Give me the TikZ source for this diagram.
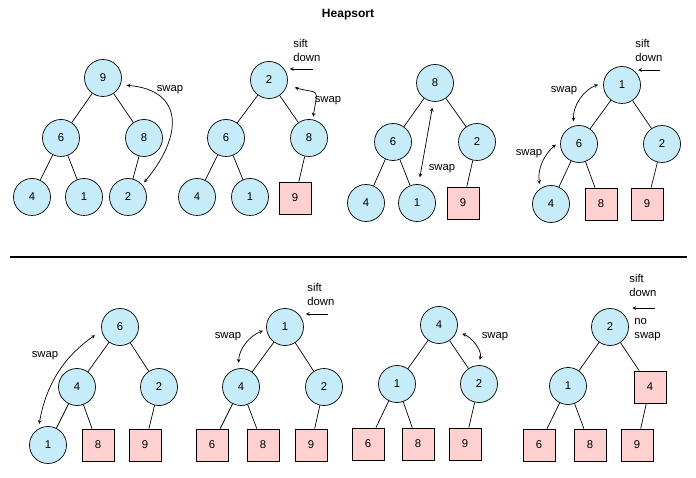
\documentclass[tikz,border=0pt]{standalone}
\usepackage{fontspec}
\setmainfont{Liberation Sans}
\usetikzlibrary{shapes,positioning,calc}
\definecolor{heapblue}{RGB}{198,236,250}
\definecolor{donepink}{RGB}{255,208,208}

\begin{document}
\begin{tikzpicture}
  [x=1pt,y=1pt,>=stealth,
   heapN/.style={circle,draw,fill=heapblue,minimum size=37pt,inner sep=0pt},
   doneN/.style={rectangle,draw,fill=donepink,minimum size=32pt,inner sep=0pt},
   note/.style={align=left,anchor=west,inner sep=0pt},
   sift/.style={->,shorten >=2pt},
   line width=0.7pt,
   font=\fontsize{11.3}{14.5}\selectfont]

  \useasboundingbox (0,0) rectangle (696,-478);

  \node at (348,-15) (title) {\fontsize{12}{14}\selectfont\bfseries Heapsort};

  % tree 1
  \node at (103,-78)  [heapN] (t1a) {9};
  \node at (61,-138)  [heapN] (t1b) {6};
  \node at (144,-138) [heapN] (t1c) {8};
  \node at (32,-197)  [heapN] (t1d) {4};
  \node at (84,-197)  [heapN] (t1e) {1};
  \node at (128,-197) [heapN] (t1f) {2};
  \draw (t1a) -- (t1b) (t1a) -- (t1c) (t1b) -- (t1d) (t1b) -- (t1e) (t1c) -- (t1f);
  \node at (170,-90) (t1w) {swap};
  \draw [<->,shorten <=6pt,shorten >=3pt,looseness=1.6] (t1a.-21) to [out=-5,in=50] (t1f.41);

  % tree 2
  \node at (269,-80)  [heapN] (t2a) {2};
  \node at (226,-138) [heapN] (t2b) {6};
  \node at (309,-138) [heapN] (t2c) {8};
  \node at (197,-197) [heapN] (t2d) {4};
  \node at (250,-197) [heapN] (t2e) {1};
  \node at (295,-198) [doneN] (t2f) {9};
  \draw (t2a) -- (t2b) (t2a) -- (t2c) (t2b) -- (t2d) (t2b) -- (t2e) (t2c) -- (t2f);
  \node at (293,-50.5) [note] (t2n) {sift\\down};
  \coordinate (t2s) at (313,-69);
  \draw [sift] (t2s) -- (t2s -| t2a.east);
  \node at (328,-101) (t2w) {swap};
  \draw [<->,shorten <=8pt,shorten >=3pt,looseness=2] (t2a.-17) to [out=-15,in=80] (t2c.79);

  % tree 3
  \node at (435,-83)  [heapN] (t3a) {8};
  \node at (393,-142) [heapN] (t3b) {6};
  \node at (477,-142) [heapN] (t3c) {2};
  \node at (366,-203) [heapN] (t3d) {4};
  \node at (417,-203) [heapN] (t3e) {1};
  \node at (463,-203) [doneN] (t3f) {9};
  \draw (t3a) -- (t3b) (t3a) -- (t3c) (t3b) -- (t3d) (t3b) -- (t3e) (t3c) -- (t3f);
  \node at (442,-169) (t3w) {swap};
  \draw [<->,shorten <=6pt,shorten >=7pt] (t3a.-95) -- (t3e.85);

  % tree 4
  \node at (622,-85)  [heapN] (t4a) {1};
  \node at (579,-144) [heapN] (t4b) {6};
  \node at (662,-144) [heapN] (t4c) {2};
  \node at (551,-204) [heapN] (t4d) {4};
  \node at (601,-204) [doneN] (t4e) {8};
  \node at (647,-204) [doneN] (t4f) {9};
  \draw (t4a) -- (t4b) (t4a) -- (t4c) (t4b) -- (t4d) (t4b) -- (t4e) (t4c) -- (t4f);
  \node at (635,-50.5) [note] (t4n) {sift\\down};
  \coordinate (t4s) at (660,-70);
  \draw [sift,shorten >=4pt] (t4s) -- (t4s -| t4a.50);
  \node at (564,-91) (t4w) {swap};
  \draw [<->,shorten <=5.5pt,shorten >=4.5pt] (t4a.173) to [out=200,in=95] (t4b.105);
  \node at (529,-154) (t4v) {swap};
  \draw [<->,shorten <=6pt,shorten >=4.5pt] (t4b.170) to [out=220,in=100] (t4d.124);

  \draw [line width=2pt] (10,-257) -- (687,-257);

  % tree 5
  \node at (120,-327) [heapN] (t5a) {6};
  \node at (77,-387)  [heapN] (t5b) {4};
  \node at (159,-387) [heapN] (t5c) {2};
  \node at (48,-445)  [heapN] (t5d) {1};
  \node at (98,-445)  [doneN] (t5e) {8};
  \node at (145,-445) [doneN] (t5f) {9};
  \draw (t5a) -- (t5b) (t5a) -- (t5c) (t5b) -- (t5d) (t5b) -- (t5e) (t5c) -- (t5f);
  \node at (45,-356) (t5w) {swap};
  \draw [<->,shorten <=8pt,shorten >=5pt] (t5a.191) to [out=215,in=80] (t5d.121);

  % tree 6
  \node at (285,-327) [heapN] (t6a) {1};
  \node at (241,-387) [heapN] (t6b) {4};
  \node at (324,-387) [heapN] (t6c) {2};
  \node at (212,-445) [doneN] (t6d) {6};
  \node at (263,-445) [doneN] (t6e) {8};
  \node at (311,-445) [doneN] (t6f) {9};
  \draw (t6a) -- (t6b) (t6a) -- (t6c) (t6b) -- (t6d) (t6b) -- (t6e) (t6c) -- (t6f);
  \node at (307,-294.5) [note] (t6n) {sift\\down};
  \coordinate (t6s) at (328,-314);
  \draw [sift] (t6s) -- (t6s -| t6a.east);
  \node at (228,-337) (t6w) {swap};
  \draw [<->,shorten <=3.5pt,shorten >=5.5pt] (t6a.188) to [out=200,in=90] (t6b.97);

  % tree 7
  \node at (439,-325) [heapN] (t7a) {4};
  \node at (397,-384) [heapN] (t7b) {1};
  \node at (479,-384) [heapN] (t7c) {2};
  \node at (368,-444) [doneN] (t7d) {6};
  \node at (418,-444) [doneN] (t7e) {8};
  \node at (465,-444) [doneN] (t7f) {9};
  \draw (t7a) -- (t7b) (t7a) -- (t7c) (t7b) -- (t7d) (t7b) -- (t7e) (t7c) -- (t7f);
  \node at (495,-337) (t7w) {swap};
  \draw [<->,shorten <=6pt,shorten >=5.5pt] (t7a.-21) to [out=-20,in=75] (t7c.92);

  % tree 8
  \node at (610,-327) [heapN] (t8a) {2};
  \node at (568,-386) [heapN] (t8b) {1};
  \node at (650,-387) [doneN] (t8c) {4};
  \node at (539,-445) [doneN] (t8d) {6};
  \node at (590,-445) [doneN] (t8e) {8};
  \node at (637,-445) [doneN] (t8f) {9};
  \draw (t8a) -- (t8b) (t8a) -- (t8c) (t8b) -- (t8d) (t8b) -- (t8e) (t8c) -- (t8f);
  \node at (629,-285.5) [note] (t8n) {sift\\down};
  \coordinate (t8s) at (655,-308);
  \draw [sift,shorten >=3.5pt] (t8s) -- (t8s -| t8a.east);
  \node at (634,-329.5) [note] (t8x) {no\\swap};
\end{tikzpicture}
\end{document}
